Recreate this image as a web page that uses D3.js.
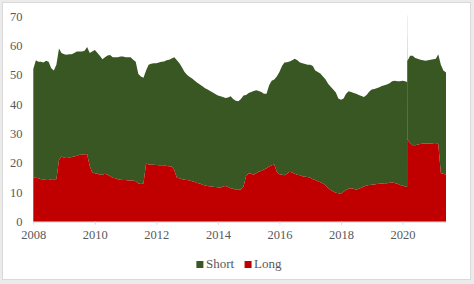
<!DOCTYPE html>
<html>
<head>
<meta charset="utf-8">
<script src="https://cdn.jsdelivr.net/npm/d3@7"></script>
<style>
  html, body { margin: 0; padding: 0; background: #ebebeb; }
  svg { display: block; }
  text { font-family: "Liberation Serif", "Times New Roman", serif; fill: #595959; }
</style>
</head>
<body>
<svg id="chart" width="474" height="284"></svg>
<script>
// ---- Data (monthly, first of month, starting Jan 2008) ----
const startMonth = "2008-01-01";
const seriesNames = ["Short", "Long"];
const longVals = [
  15, 15, 14.8, 14.5, 14.5, 14.2, 14.2, 14.5, 14.5, 14.5, 21, 22.2,          // 2008
  21.8, 21.7, 21.8, 22, 22.2, 22.5, 22.8, 22.8, 23, 23, 19, 16.8,           // 2009
  16.5, 16.3, 16, 16, 16.3, 16, 15.5, 15, 14.8, 14.5, 14.3, 14.2,           // 2010
  14.2, 14, 14, 14, 13.8, 13, 12.8, 13, 19.8, 19.5, 19.4, 19.4,             // 2011
  19.3, 19.2, 19.2, 19.2, 19, 18.9, 18.8, 17.5, 15, 14.8, 14.5, 14.3,       // 2012
  14.2, 14, 13.8, 13.5, 13.2, 13, 12.6, 12.3, 12.2, 12, 11.9, 11.8,         // 2013
  11.7, 11.6, 12, 12.2, 11.8, 11.4, 11.2, 10.9, 10.9, 11, 12, 15.5,         // 2014
  16.5, 16.3, 16, 16.5, 17.1, 17.3, 17.8, 18.2, 18.8, 19.2, 19.5, 17,       // 2015
  16.2, 16, 15.8, 16.3, 17, 16.8, 16.3, 16, 15.8, 15.5, 15.3, 15.2,         // 2016
  15, 14.5, 14.2, 13.8, 13.4, 13, 12.4, 11.5, 10.8, 10.3, 9.9, 9.7,         // 2017
  9.6, 10.2, 10.8, 11.2, 11.4, 11.2, 10.9, 11.2, 11.6, 12, 12.3, 12.5,      // 2018
  12.6, 12.7, 12.8, 12.9, 13, 13.1, 13.1, 13.3, 13.4, 13.2, 12.9, 12.5,     // 2019
  12.3, 12, 28, 26.8, 26, 26, 26.3, 26.5, 26.6, 26.6, 26.6, 26.6,           // 2020
  26.7, 26.8, 26.5, 16.5, 16.3, 16                                          // 2021
];
const shortVals = [
  37, 40, 39.7, 40, 39.7, 40.6, 40.3, 37.8, 37, 39, 38, 35.3,               // 2008
  35.2, 35.2, 35.2, 35, 35.3, 35.5, 35.2, 35.2, 35.2, 36.5, 38.5, 41.2,     // 2009
  42, 41.2, 40.5, 39.3, 39.7, 40.6, 41.3, 41, 41.2, 41.5, 42, 42.1,         // 2010
  41.8, 42, 42, 41.2, 40.7, 37.3, 36.7, 36, 31.7, 34, 34.4, 34.6,           // 2011
  34.7, 35, 35.3, 35.4, 36, 36.3, 36.8, 38.5, 40, 39.2, 38, 36.7,           // 2012
  35.8, 35.3, 35, 34.5, 34.1, 33.7, 33.5, 33.2, 32.8, 32.5, 32.1, 31.7,     // 2013
  31.3, 31.1, 30.5, 29.9, 30.5, 31.3, 30.6, 30.3, 30.1, 30.8, 31, 27.7,     // 2014
  27.3, 27.9, 28.5, 28.3, 27.4, 26.9, 25.8, 25.4, 27.7, 28.8, 28.9, 32.5,   // 2015
  34.8, 37, 38.4, 38, 37.6, 38.2, 39.2, 39, 38.4, 38.5, 38.4, 38.3,         // 2016
  38.5, 38.5, 37.3, 37.2, 37.1, 36.5, 36.1, 35.5, 35.2, 34.7, 34.1, 32.3,   // 2017
  31.9, 31.8, 32.7, 33.2, 32.8, 32.6, 32.7, 32, 31.2, 30.5, 30.9, 31.8,     // 2018
  32.4, 32.5, 32.7, 32.9, 33.2, 33.4, 33.6, 33.9, 34.4, 34.8, 34.9, 35.3,   // 2019
  35.7, 35.8, 26.8, 29.7, 30.5, 29.8, 29.2, 28.7, 28.4, 28.2, 28.4, 28.6,   // 2020
  28.6, 28.7, 30.5, 37, 35.2, 34.8                                          // 2021
];
// Short-lived spike in early 2020
const spikeDates = ["2020-02-25", "2020-02-26", "2020-02-27", "2020-02-28"];
const spikeLong  = [11.8, 70, 70, 28.5];
const spikeShort = [35.8, 0.3, 0.3, 26.5];

const yTicks = [0, 10, 20, 30, 40, 50, 60, 70];
const xTickYears = [2008, 2010, 2012, 2014, 2016, 2018, 2020];

// ---- Build rows ----
const parse = d3.timeParse("%Y-%m-%d");
const start = parse(startMonth);
let rows = longVals.map((v, i) => ({ date: d3.timeMonth.offset(start, i), Long: v, Short: shortVals[i] }));
spikeDates.forEach((d, i) => rows.push({ date: parse(d), Long: spikeLong[i], Short: spikeShort[i] }));
rows.sort((a, b) => a.date - b.date);

const svg = d3.select("#chart");
// frame
svg.append("rect").attr("x", 2.5).attr("y", 2.5).attr("width", 468).attr("height", 277)
  .attr("fill", "#ffffff").attr("stroke", "#d9d9d9").attr("stroke-width", 1);

const x = d3.scaleTime()
  .domain([start, rows[rows.length - 1].date])
  .range([33.3, 446]);
const y = d3.scaleLinear().domain([0, 70]).range([221.7, 16.2]);

const stack = d3.stack().keys(["Long", "Short"]);
const layers = stack(rows);
const colors = { Long: "#c00000", Short: "#385723" };

const area = d3.area()
  .x(d => x(d.data.date))
  .y0(d => y(d[0]))
  .y1(d => y(d[1]));

// draw Short first, then Long on top so the spike shows
const order = ["Short", "Long"];
order.forEach(k => {
  const layer = layers.find(l => l.key === k);
  svg.append("path").datum(layer).attr("d", area).attr("fill", colors[k]);
});

// y axis labels
const yAxis = d3.axisLeft(y).tickValues(yTicks).tickSize(0).tickPadding(0);
const yg = svg.append("g").attr("transform", "translate(22.5,0)").call(yAxis);
yg.select(".domain").remove();
yg.selectAll("text").attr("font-size", 12.5).attr("fill", "#595959")
  .style("font-family", '"Liberation Serif", "Times New Roman", serif');

// x axis
const xAxis = d3.axisBottom(x)
  .tickValues(xTickYears.map(yv => new Date(yv, 0, 1)))
  .tickFormat(d3.timeFormat("%Y"))
  .tickSizeInner(3).tickSizeOuter(0).tickPadding(5);
const xg = svg.append("g").attr("transform", "translate(0,221.7)").call(xAxis);
xg.select(".domain").attr("stroke", "#d9d9d9");
xg.selectAll(".tick line").attr("stroke", "#d9d9d9");
xg.selectAll("text").attr("font-size", 12.5).attr("fill", "#595959")
  .style("font-family", '"Liberation Serif", "Times New Roman", serif');

// legend
const legend = svg.append("g");
let cx = 0;
seriesNames.forEach((name, i) => {
  const g = legend.append("g").attr("transform", `translate(${cx},0)`);
  g.append("rect").attr("x", 0).attr("y", -7).attr("width", 7).attr("height", 7).attr("fill", colors[name]);
  const t = g.append("text").attr("x", 9.5).attr("y", 0).attr("font-size", 13).text(name);
  cx += 9.5 + t.node().getComputedTextLength() + 10.5;
});
const lw = cx - 10.5;
legend.attr("transform", `translate(${(239 - lw / 2).toFixed(1)},268)`);
</script>
</body>
</html>
